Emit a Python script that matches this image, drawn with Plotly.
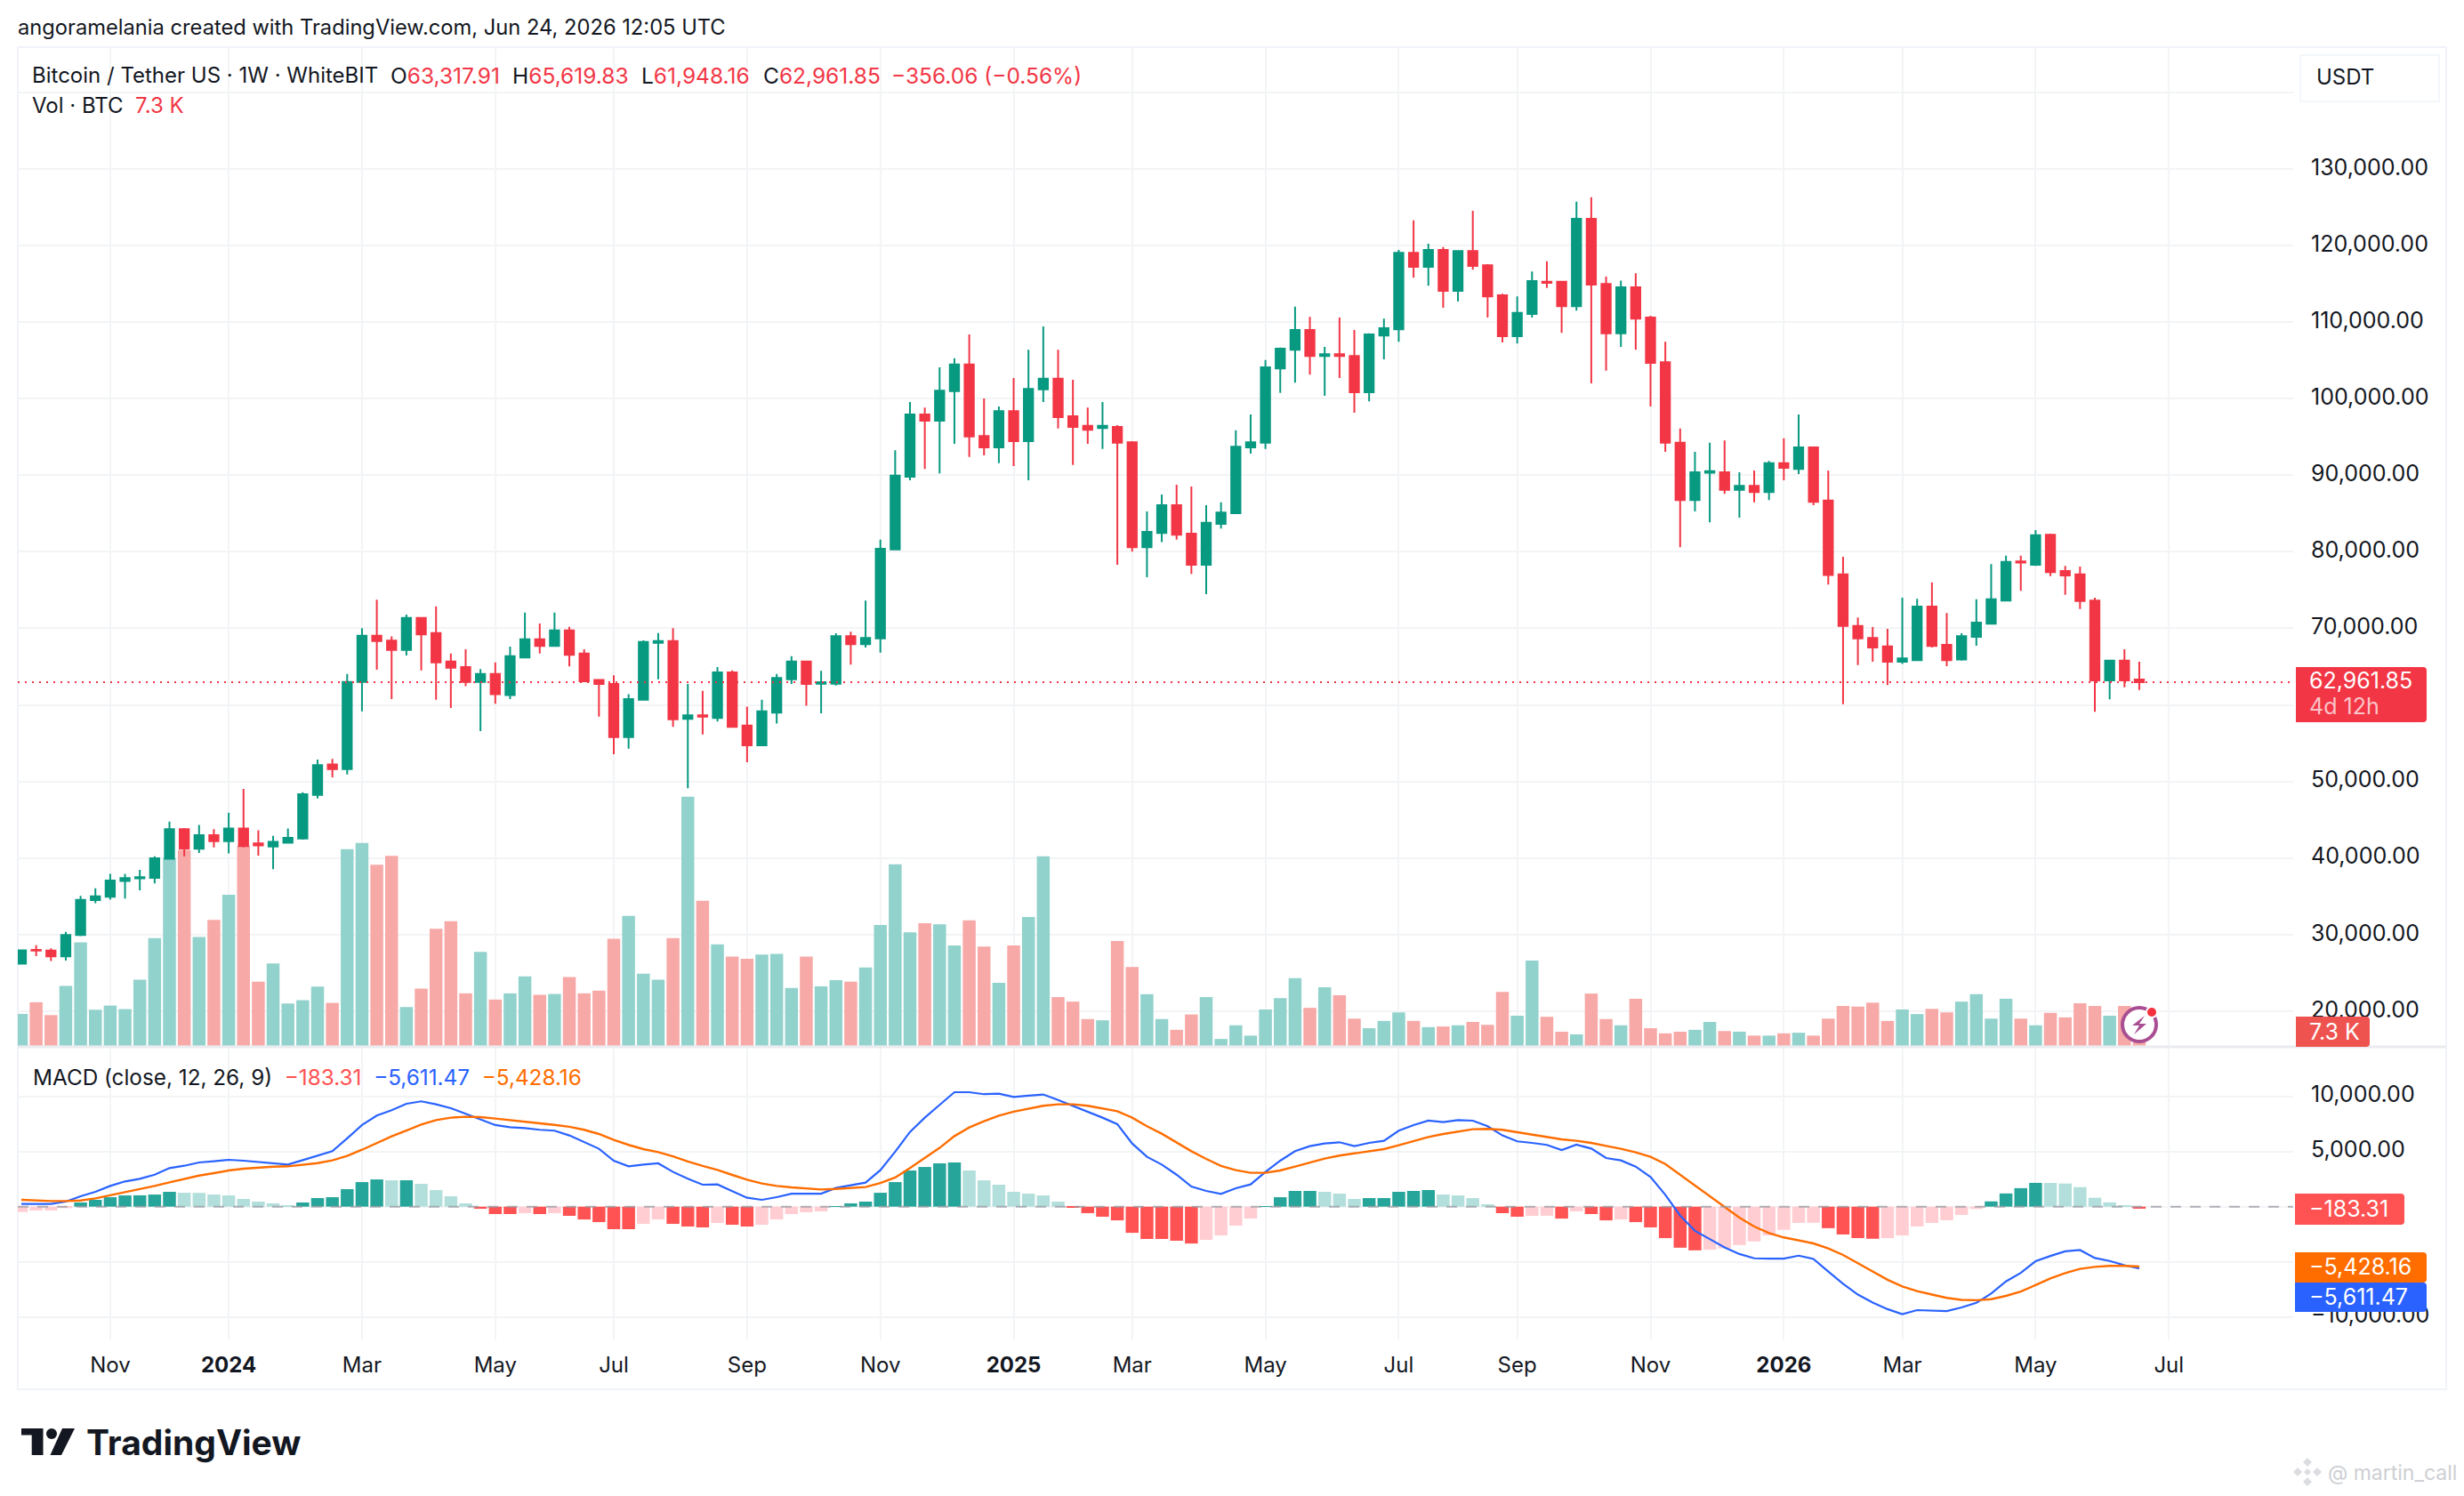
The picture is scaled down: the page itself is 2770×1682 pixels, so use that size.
import pandas as pd
import plotly.graph_objects as go

# ---------- data ----------
first_week = "2023-09-25"
opens = [26200,27990,27920,27150,29950,34500,34950,37000,37350,37400,39900,43780,41200,42990,42190,43870,41920,41500,42000,42550,
48230,52220,51600,62980,69030,68400,67160,71340,69380,65650,64940,62980,64050,61290,66180,68580,67700,69740,66720,63250,
62720,55780,60670,68100,68320,58180,58630,58280,64230,57300,54720,58990,63340,65650,62750,62750,68970,67930,68670,80300,
89780,97930,97110,100960,104450,95110,93630,98370,94450,101190,102590,97700,96450,96150,96300,94300,80600,82450,86080,82370,
78300,83630,85040,93630,94220,103930,106370,108960,105560,105780,105560,100820,108220,109040,119040,117190,119410,114070,119260,117410,
113480,108150,111040,115260,115260,112070,123480,114960,108520,114520,110590,104740,94220,86740,90300,90370,88080,88590,87780,91560,
90820,93630,86670,77040,70300,68740,67630,65630,65850,72820,67850,65930,68890,70600,73630,78740,78300,82220,77480,77040,
73630,63190,65780,63317.91]
highs = [28000,28600,28200,30350,35070,36050,37930,37930,38450,40230,44770,43900,44320,43780,45920,49030,43610,42900,43870,48580,
52850,52940,64050,70010,73740,68940,71780,71340,72850,66720,67250,64670,65560,67610,72050,70630,72050,70190,67250,63300,
63870,61380,68410,69380,70010,62720,61830,64940,64500,59780,60670,64050,66360,65650,64450,69340,69560,73630,81560,93260,
99560,98820,104070,105260,108370,100000,98960,102670,106370,109410,106370,102450,98820,99560,96520,94450,85260,87480,88740,88520,
86080,86450,95850,97930,105040,106670,111990,110670,106740,110590,108960,108520,110450,119410,123260,120220,119780,119260,124520,117560,
113700,113330,116590,117930,115260,125700,126300,115930,115410,116370,110810,107410,96080,93040,94220,94520,90370,90590,91850,94820,
97930,93630,90590,79330,71410,70150,69930,74000,73850,76000,72000,69340,73780,78370,79480,79480,82820,82370,78150,78070,
74000,65780,67260,65619.83]
lows = [26100,27200,26550,26600,29800,34100,34550,34720,35780,36670,39900,40230,40670,41380,40590,41400,40320,38540,41900,42400,
47780,50540,50900,59160,64580,60760,66450,64500,60670,59600,62450,56580,60140,60760,66180,66720,67610,65030,62980,58450,
53560,54270,60600,63340,57120,49120,56140,57830,57120,52500,54630,57560,62720,59870,58890,62520,65260,67480,66820,80300,
89340,90820,90220,94080,92370,92590,91560,91190,89340,99560,96080,91330,94080,93410,78300,80000,76670,81260,81560,77110,
74450,83040,85040,92820,93410,100740,102070,103110,100370,102670,98150,99630,105110,107410,115780,114740,111850,112670,116820,110590,
107340,107190,110590,114450,108590,111480,102000,103630,106740,106370,98960,93040,80590,85260,83850,87560,84450,86450,86740,89340,
90150,86080,75700,60080,65190,65630,62590,65330,65850,67480,65040,65780,67710,70600,73630,74890,78150,76820,74370,72520,
59110,60740,62300,61948.16]
closes = [27950,27920,27150,29950,34540,35000,37050,37380,37500,39970,43780,41200,42990,42190,43870,41560,41660,42100,42630,48320,
52140,51600,62980,69030,68320,67160,71340,69210,65560,64850,62980,64050,61380,66360,68580,67700,69740,66540,63070,62720,
55780,60760,68230,68320,58100,58630,58450,64230,57120,54720,59160,63520,65650,62720,62950,68970,67930,68740,80370,89930,
97930,97110,101040,104450,95040,93630,98370,94450,101260,102590,97560,96300,95930,96450,94220,80600,82600,86080,82220,78300,
83780,85110,93700,94300,104070,106520,108960,105560,105780,105560,100820,108370,109190,119040,117190,119410,114070,119260,117330,113330,
108150,111190,115330,115110,112070,123480,114890,108520,114520,110440,104670,94220,86740,90370,90520,88080,88590,87780,91560,90960,
93630,86520,76960,70300,68670,67480,65630,66070,72820,67700,65850,68970,70740,73780,78670,78590,82150,77330,76890,73560,
63190,65780,63190,62961.85]
volume_k = [15.4,21.0,14.8,28.9,49.9,17.4,19.4,17.7,31.9,51.9,90.6,94.3,52.5,60.8,72.9,96.6,30.9,39.7,20.4,22.0,
28.6,20.7,94.9,97.9,87.4,91.6,18.7,27.6,56.5,60.1,25.3,45.3,22.3,25.3,33.5,24.6,25.0,33.2,25.3,26.6,
51.6,62.7,34.8,31.9,51.9,120.2,70.0,48.9,43.0,42.0,44.0,44.3,27.9,43.0,28.7,31.7,30.9,37.8,58.3,87.6,
54.7,59.1,58.6,48.4,60.5,47.9,30.4,48.4,62.1,91.4,23.5,21.3,12.9,12.3,50.6,38.0,24.9,12.9,7.7,15.1,
23.5,3.3,9.9,4.9,17.5,23.0,32.6,18.3,28.2,24.4,13.1,8.5,12.0,16.1,12.0,9.0,9.3,9.9,11.5,10.1,
26.0,14.5,41.1,14.0,6.8,5.5,25.2,12.9,9.9,22.7,8.5,6.0,6.8,7.7,11.5,7.1,6.8,4.9,4.9,6.0,
6.3,4.9,13.1,19.2,18.9,20.8,12.0,17.5,15.3,17.8,16.1,21.3,24.9,13.1,22.7,13.1,9.9,15.9,13.7,20.5,
19.2,14.5,19.2,7.3]
histogram = [-480,-350,-340,-130,380,620,860,1020,1030,1100,1345,1260,1250,1100,1020,700,460,300,130,380,
780,860,1590,2230,2470,2390,2395,2070,1500,940,300,-190,-670,-670,-590,-670,-590,-830,-1160,-1400,
-2040,-2040,-1560,-1160,-1560,-1800,-1880,-1480,-1640,-1800,-1640,-1160,-670,-510,-430,50,300,460,1260,2230,
3280,3600,3930,4010,3280,2390,1990,1345,1180,1020,460,-100,-590,-910,-1240,-2370,-2930,-2930,-3090,-3340,
-3010,-2610,-1720,-1080,50,860,1430,1430,1345,1180,700,780,780,1345,1430,1510,1100,1020,780,215,
-590,-910,-830,-820,-1080,-430,-670,-1240,-1160,-1400,-1880,-2850,-3720,-3960,-3900,-3780,-3480,-3150,-2610,-2100,
-1470,-1460,-1950,-2520,-2850,-2910,-2850,-2610,-1800,-1470,-1230,-750,-210,480,1200,1680,2160,2150,2100,1770,
810,390,60,-183.31]
macd_line = [242,242,242,457,940,1345,1880,2290,2530,2900,3500,3710,4010,4120,4250,4170,4035,3930,3820,4220,
4650,5030,6190,7400,8260,8740,9330,9550,9280,8930,8420,7940,7400,7210,7130,6970,6890,6460,5860,5250,
4170,3660,3820,3930,3150,2530,1990,2020,1400,810,620,860,1180,1180,1180,1695,1940,2180,3310,4980,
6780,8070,9230,10380,10380,10200,10250,9950,10060,10170,9680,9150,8610,8070,7480,5730,4520,3820,2900,1830,
1430,1160,1670,2020,3150,4170,5030,5490,5730,5840,5490,5780,5970,6890,7400,7800,7670,7850,7800,7290,
6460,5920,5780,5600,5140,5620,5270,4410,4200,3630,2690,1080,-810,-2190,-2940,-3690,-4290,-4680,-4710,-4710,
-4440,-4740,-5880,-6990,-7970,-8690,-9290,-9740,-9380,-9410,-9470,-9140,-8720,-7880,-6780,-6000,-4950,-4470,-4050,-3930,
-4650,-4920,-5310,-5611.47]
signal_line = [620,540,510,510,565,750,1020,1290,1560,1880,2200,2530,2820,3040,3280,3440,3550,3630,3660,3790,
3950,4200,4600,5160,5780,6380,6910,7450,7850,8070,8150,8120,7990,7830,7690,7560,7420,7240,6970,6590,
6050,5600,5220,4950,4570,4090,3690,3340,2880,2450,2100,1880,1750,1640,1560,1610,1670,1780,2150,2640,
3500,4380,5330,6400,7180,7750,8260,8610,8880,9150,9280,9280,9150,8900,8660,8070,7290,6620,5840,5030,
4330,3690,3310,3070,3070,3280,3630,4010,4360,4630,4820,5030,5220,5570,5970,6320,6590,6830,7020,7050,
6970,6750,6540,6320,6110,5970,5780,5510,5250,4920,4520,3870,2900,1950,960,-30,-990,-1800,-2400,-2790,
-3030,-3330,-3780,-4380,-5130,-5880,-6630,-7230,-7650,-7970,-8270,-8450,-8480,-8390,-8090,-7700,-7080,-6510,-6030,-5640,
-5460,-5370,-5370,-5428.16]

time_ticks = ["2023-11-06","2024-01-01","2024-03-04","2024-05-06","2024-07-01","2024-09-02","2024-11-04","2025-01-06","2025-03-03","2025-05-05",
              "2025-07-07","2025-09-01","2025-11-03","2026-01-05","2026-03-02","2026-05-04","2026-07-06"]
time_labels = ["Nov","<b>2024</b>","Mar","May","Jul","Sep","Nov","<b>2025</b>","Mar","May","Jul","Sep","Nov","<b>2026</b>","Mar","May","Jul"]
price_ticks = [140000,130000,120000,110000,100000,90000,80000,70000,60000,50000,40000,30000,20000]
price_labels = ["","130,000.00","120,000.00","110,000.00","100,000.00","90,000.00","80,000.00","70,000.00","60,000.00","50,000.00","40,000.00","30,000.00","20,000.00"]
macd_ticks = [10000,5000,0,-5000,-10000]
macd_labels = ["10,000.00","5,000.00","","","−10,000.00"]

credit = "angoramelania created with TradingView.com, Jun 24, 2026 12:05 UTC"
symbol = "Bitcoin / Tether US · 1W · WhiteBIT"
last_open, last_high, last_low, last_close = "63,317.91", "65,619.83", "61,948.16", "62,961.85"
change = "−356.06 (−0.56%)"
vol_name, vol_value = "Vol · BTC", "7.3 K"
macd_name = "MACD (close, 12, 26, 9)"
macd_hist_text, macd_text, signal_text = "−183.31", "−5,611.47", "−5,428.16"
countdown = "4d 12h"
currency = "USDT"
brand = "TradingView"
watermark = "@ martin_call"

# ---------- style ----------
W, H = 2770, 1682
GREEN, RED = "#089981", "#F23645"
VOL_G, VOL_R = "#92D2CC", "#F7A9A7"
H_DG, H_LG, H_DR, H_LR = "#26A69A", "#B2DFDB", "#FF5252", "#FFCDD2"
BLUE, ORANGE = "#2962FF", "#FF6D00"
GRID = "#F3F4F6"
INK = "#131722"
FONT = "Inter, Liberation Sans, sans-serif"

def fx(px): return px / W
def fy(py): return 1 - py / H

dates = pd.date_range(first_week, periods=len(closes), freq="7D")

vol_colors = [VOL_G if c >= o else VOL_R for o, c in zip(opens, closes)]
hist_colors = []
for i, v in enumerate(histogram):
    prev = histogram[i - 1] if i else None
    if v >= 0:
        hist_colors.append(H_DG if prev is not None and v >= prev else H_LG)
    else:
        hist_colors.append(H_DR if prev is not None and v <= prev else H_LR)

PANE_TOP, PANE_SPLIT, MACD_BOTTOM = 53, 1177, 1506
PLOT_L, PLOT_R = 20, 2578
WEEK_PX = 16.65
x0 = dates[0] + pd.Timedelta(days=7 * (PLOT_L - 24) / WEEK_PX)
x1 = dates[0] + pd.Timedelta(days=7 * (PLOT_R - 24) / WEEK_PX)

def price_at(py): return 120000 - (py - 275.9) / 86.1 * 10000
def macd_at(py): return (1356.7 - py) / 62 * 5000
def vol_at(py): return (1175.8 - py) / 2.33

fig = go.Figure()
fig.add_trace(go.Bar(x=dates, y=volume_k, marker=dict(color=vol_colors, line_width=0), xaxis="x", yaxis="y", hoverinfo="skip"))
fig.add_trace(go.Candlestick(x=dates, open=opens, high=highs, low=lows, close=closes, xaxis="x", yaxis="y2",
                             increasing=dict(line=dict(color=GREEN, width=2), fillcolor=GREEN),
                             decreasing=dict(line=dict(color=RED, width=2), fillcolor=RED),
                             whiskerwidth=0, hoverinfo="skip"))
fig.add_trace(go.Bar(x=dates, y=histogram, marker=dict(color=hist_colors, line_width=0), xaxis="x2", yaxis="y3", hoverinfo="skip"))
fig.add_trace(go.Scatter(x=dates, y=macd_line, mode="lines", line=dict(color=BLUE, width=2.2), xaxis="x2", yaxis="y3", hoverinfo="skip"))
fig.add_trace(go.Scatter(x=dates, y=signal_line, mode="lines", line=dict(color=ORANGE, width=2.4), xaxis="x2", yaxis="y3", hoverinfo="skip"))

shapes = []
def rect(x0_, y0_, x1_, y1_, color, r=4, line=None, w=0):
    d = (f"M {fx(x0_)} {fy(y0_)} L {fx(x1_-r)} {fy(y0_)} Q {fx(x1_)} {fy(y0_)} {fx(x1_)} {fy(y0_+r)} "
         f"L {fx(x1_)} {fy(y1_-r)} Q {fx(x1_)} {fy(y1_)} {fx(x1_-r)} {fy(y1_)} L {fx(x0_)} {fy(y1_)} Z")
    shapes.append(dict(type="path", path=d, xref="paper", yref="paper", fillcolor=color,
                       line=dict(width=w, color=line or color), layer="above"))

def poly(points, color):
    d = "M " + " L ".join(f"{fx(a)} {fy(b)}" for a, b in points) + " Z"
    shapes.append(dict(type="path", path=d, xref="paper", yref="paper", fillcolor=color, line=dict(width=0), layer="above"))

def circle(cx, cy, r, fill, line=None, w=0):
    shapes.append(dict(type="circle", xref="paper", yref="paper", x0=fx(cx - r), x1=fx(cx + r), y0=fy(cy + r), y1=fy(cy - r),
                       fillcolor=fill, line=dict(width=w, color=line or fill), layer="above"))

# frame and pane separators
shapes.append(dict(type="rect", xref="paper", yref="paper", x0=fx(20), x1=fx(2750), y0=fy(1562), y1=fy(53),
                   line=dict(color="#F0F3FA", width=2), fillcolor="rgba(0,0,0,0)", layer="below"))
shapes.append(dict(type="line", xref="paper", yref="paper", x0=fx(20), x1=fx(2750), y0=fy(PANE_SPLIT), y1=fy(PANE_SPLIT),
                   line=dict(color="#E9EBEF", width=3), layer="above"))
# price line and histogram zero line, anchored on the value axes
shapes.append(dict(type="line", xref="paper", yref="y2", x0=fx(PLOT_L), x1=fx(PLOT_R), y0=closes[-1], y1=closes[-1],
                   line=dict(color=RED, width=2, dash="2px,6px"), layer="above"))
shapes.append(dict(type="line", xref="paper", yref="y3", x0=fx(PLOT_L), x1=fx(PLOT_R), y0=0, y1=0,
                   line=dict(color="rgba(150,152,160,0.75)", width=2, dash="12px,10px"), layer="above"))
# right side tags
rect(2581, 750, 2728, 812, RED)
rect(2581, 1143, 2664, 1177, "#EF5350")
rect(2580, 1342, 2703, 1377, H_DR)
rect(2580, 1408, 2728, 1442, ORANGE)
rect(2580, 1442, 2728, 1475, BLUE)
# currency box
shapes.append(dict(type="rect", xref="paper", yref="paper", x0=fx(2586), x1=fx(2742), y0=fy(114), y1=fy(62),
                   line=dict(color="#F0F3FA", width=1.5), fillcolor="white", layer="above"))
# alert icon
PURPLE = "#A94E92"
circle(2405, 1152, 19, "white", PURPLE, 4)
circle(2419, 1138, 7, "white")
circle(2419, 1138, 5, "#F6303F")
poly([(2411, 1142), (2397, 1153), (2405, 1153), (2399, 1163), (2413, 1151), (2405, 1151)], PURPLE)
# brand logo
LOGO = "#131722"
poly([(24, 1606), (48.5, 1606), (48.5, 1636), (35.7, 1636), (35.7, 1613.5), (24, 1613.5)], LOGO)
circle(58, 1612, 6, LOGO)
poly([(84, 1606), (70, 1606), (56.5, 1636), (69, 1636)], LOGO)
# watermark glyph
MARK = "#DCDDE0"
for dx, dy in [(0, -11), (0, 11), (-11, 0), (11, 0)]:
    cx, cy = 2594 + dx, 1655 + dy
    poly([(cx, cy - 5), (cx + 5, cy), (cx, cy + 5), (cx - 5, cy)], MARK)
poly([(2594, 1651), (2598, 1655), (2594, 1659), (2590, 1655)], MARK)

notes = []
def note(x, y, text, size=24, color=INK, family=FONT):
    notes.append(dict(xref="paper", yref="paper", x=fx(x), y=fy(y), xanchor="left", yanchor="middle",
                      text=text, showarrow=False, font=dict(size=size, color=color, family=family), align="left",
                      borderpad=0, borderwidth=0))

def tint(text, color): return f'<span style="color:{color}">{text}</span>'

note(20, 31, credit, 23.7)
note(36, 85, symbol, 24)
for start, letter, value in [(439, "O", last_open), (576, "H", last_high), (721, "L", last_low), (858, "C", last_close)]:
    note(start, 85, f"{letter}{tint(value, RED)}", 24.5)
note(1002, 85, tint(change, RED), 24.5)
note(36, 119, f"{vol_name}  {tint(vol_value, RED)}", 24)
note(37, 1211, f"{macd_name}  {tint(macd_hist_text, H_DR)}  {tint(macd_text, BLUE)}  {tint(signal_text, ORANGE)}", 24.3)
note(2604, 87, currency, 24)
note(2596, 765, last_close, 25, "white")
note(2596, 794, countdown, 25, "#FBC4C9")
note(2596, 1160, vol_value, 25, "white")
note(2596, 1359, macd_hist_text, 25, "white")
note(2596, 1424, signal_text, 25, "white")
note(2596, 1458, macd_text, 25, "white")
note(97, 1621, f"<b>{brand}</b>", 39, "#131722")
note(2617, 1656, watermark, 23, "#CDCFD3")

fig.update_layout(
    width=W, height=H, margin=dict(l=0, r=0, t=0, b=0), autosize=False,
    paper_bgcolor="white", plot_bgcolor="white", showlegend=False,
    barmode="overlay", bargap=0.13, boxgap=0.38, boxgroupgap=0, boxmode="overlay",
    font=dict(family=FONT, size=24, color=INK),
    xaxis=dict(domain=[fx(PLOT_L), fx(PLOT_R)], range=[x0, x1], type="date", anchor="y", rangeslider=dict(visible=False),
               tickmode="array", tickvals=time_ticks, ticktext=[""] * len(time_ticks), showgrid=True, gridcolor=GRID, gridwidth=2,
               zeroline=False, showline=False, ticks=""),
    xaxis2=dict(domain=[fx(PLOT_L), fx(PLOT_R)], range=[x0, x1], type="date", anchor="y3", matches="x",
                tickmode="array", tickvals=time_ticks, ticktext=time_labels, showgrid=True, gridcolor=GRID, gridwidth=2,
                zeroline=False, showline=False, ticks="outside", ticklen=7, tickcolor="rgba(0,0,0,0)",
                tickfont=dict(size=24, color=INK, family=FONT), rangeslider=dict(visible=False)),
    yaxis=dict(domain=[fy(PANE_SPLIT), fy(PANE_TOP)], range=[vol_at(PANE_SPLIT), vol_at(PANE_TOP)], anchor="x",
               showgrid=False, zeroline=False, showticklabels=False, ticks=""),
    yaxis2=dict(domain=[fy(PANE_SPLIT), fy(PANE_TOP)], range=[price_at(PANE_SPLIT), price_at(PANE_TOP)], overlaying="y", anchor="x", side="right",
                tickmode="array", tickvals=price_ticks, ticktext=price_labels, showgrid=True, gridcolor=GRID, gridwidth=2,
                zeroline=False, ticks="outside", ticklen=14, tickcolor="rgba(0,0,0,0)", tickfont=dict(size=25, color=INK, family=FONT),
                ticklabelshift=-2),
    yaxis3=dict(domain=[fy(MACD_BOTTOM), fy(PANE_SPLIT)], range=[macd_at(MACD_BOTTOM), macd_at(PANE_SPLIT)], anchor="x2", side="right",
                tickmode="array", tickvals=macd_ticks, ticktext=macd_labels, showgrid=True, gridcolor=GRID, gridwidth=2,
                zeroline=False, ticks="outside", ticklen=14, tickcolor="rgba(0,0,0,0)", tickfont=dict(size=25, color=INK, family=FONT),
                ticklabelshift=-2),
    shapes=shapes, annotations=notes,
)
fig.write_html("out.html", post_script="document.body.style.margin='0';document.body.style.background='white';",
               config=dict(displayModeBar=False))
